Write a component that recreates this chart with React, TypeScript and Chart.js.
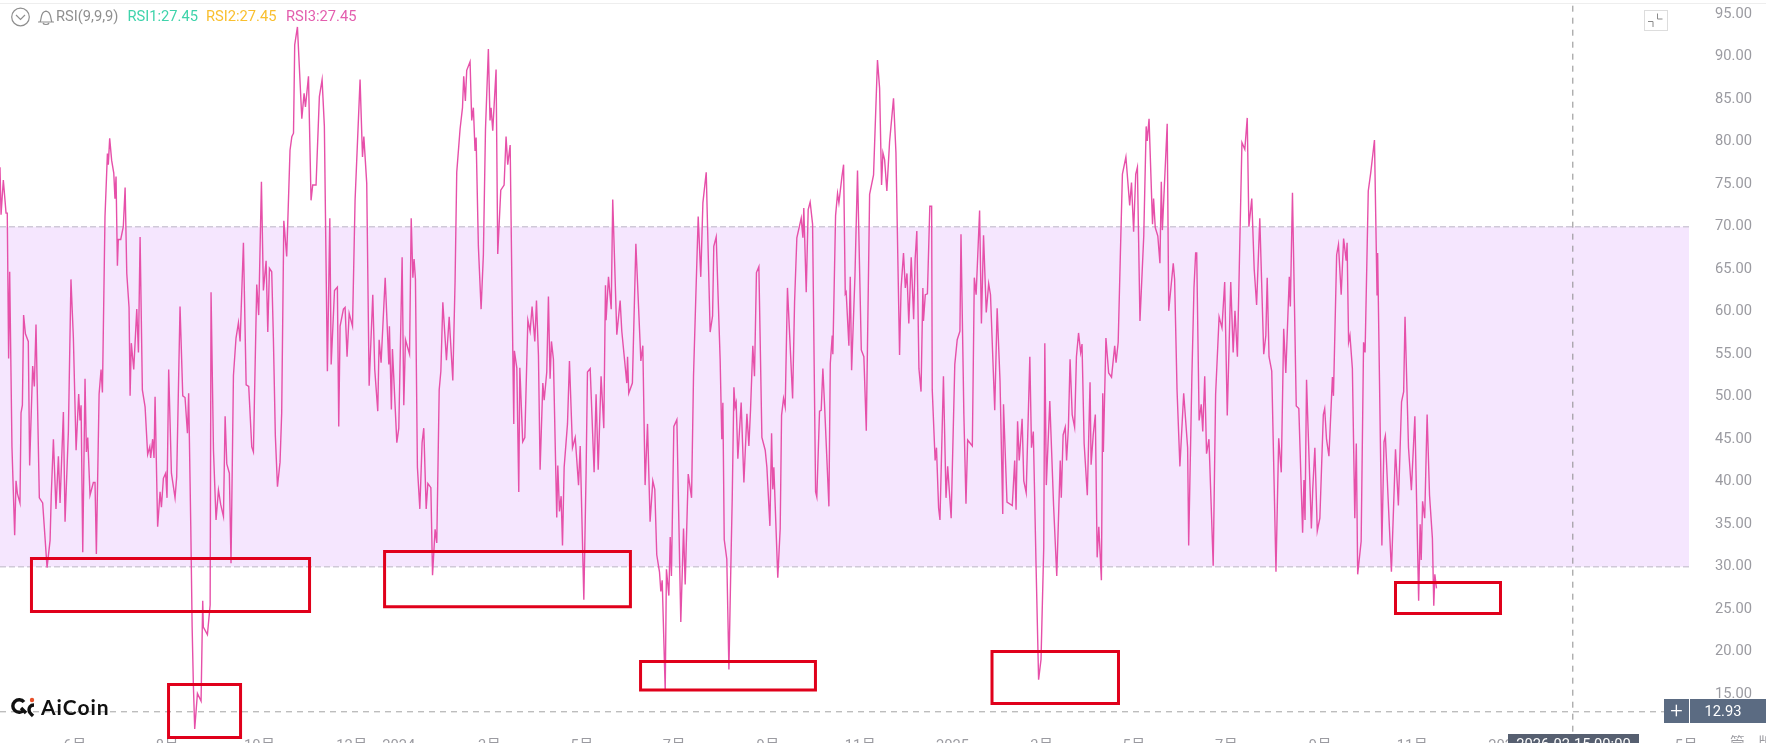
import React, { useEffect, useRef } from "react";
import { Chart, registerables } from "chart.js";

Chart.register(...registerables);

type Pair = [number, number];

// [days from the left edge of the view, RSI value]
const rsiSegmentA: Pair[] = [
  [0,77],[.7,71.4],[2.2,75.5],[4,71.6],[4.8,71.6],[5.7,54.5],[6.4,64.7],[7.9,44.1],[9.7,33.7],[10.6,40.1],[11.5,38.6],[13.2,37.5],[13.9,48.1],[14.8,49],[15.6,59.6],[16.8,57.4],[18.7,56.5],[19.6,41.9],[21.6,53.6],[22.7,51.2],[23.8,58.5],[26,38.1],[28.2,37.5],[31.1,29.9],[33.1,33.1],[33.9,38.5],[35.3,45],[37,36.8],[38.6,43],[39.7,37.5],[41.9,48.2],[43,35.3],[45.2,45.9],[46.9,63.8],[48.5,56.9],[50.3,43.7],[52,50.3],[52.9,47.2],[53.6,49],[54.7,31.7],[56.2,52.1],[57.1,43.5],[58,45.2],[59.5,38.4],[61.7,39.9],[62.8,39.9],[63.7,31.5],[65.5,50.3],[66.8,53.2],[67.7,50.5],[69.4,71.2],[71,78.6],[71.6,77.3],[72.5,80.4],[73.8,77.8],[75.2,76.3],[76,73.3],[76.7,75.9],[77.6,65.4],[78.2,68.5],[79.8,68.5],[81.5,70],[82.7,74.6],[83.8,64.5],[85.3,60.5],[86,50.1],[86.8,56.3],[88.4,53.2],[90.4,60.3],[91.5,55.2],[92.6,68.8],[94.1,50.8],[95.9,48.8],[97.6,43.2],[99,44.1],[99.6,42.8],[100.9,45],[101.8,42.8],[102.5,50],[104.2,34.7],[105.8,38.8],[106.7,37],[108,40.4],[109.5,41],[110.4,38.1],[111.5,53.2],[113.3,41],[115.7,38.1],[116.8,40.6],[119,60.6],[120.8,50.1],[122.3,49.9],[123.9,45.7],[124.7,50.4],[126.1,34.8],[127,22.9],[127.8,16.2],[128.7,10.9],[130.5,15.1],[132.9,14.2],[134,26],[134.4,22.9],[137.1,22],[138.9,25.5],[139.5,62.3],[141.1,43.7],[142.8,35.5],[144.4,39],[145.9,37.3],[147.7,35.9],[148.8,47.7],[149.9,42.1],[151.6,41],[152.7,30.4],[154.3,52.5],[156,56.9],[157.6,58.7],[158.7,56.5],[160.9,68.1],[162.7,51.4],[164.4,51.2],[166.4,44.1],[167.5,43.5],[169.7,63.2],[171,59.6],[172.8,75.3],[174.1,62.5],[175.9,66],[177,57.6],[178.1,65.1],[179.6,64.7],[180.7,56.9],[182,45.4],[183.4,39.4],[185.1,42.3],[186.2,48.1],[187.6,70.7],[189.5,66.5],[191.7,79],[192.9,80.6],[194,81],[194.8,91.4],[196.6,93.5],[199.5,82.7],[201,85.7],[201.9,84.1],[203.9,87.7],[205.6,73.1],[206.7,74.9],[208.9,74.9],[211.1,85.3],[212.9,87.3],[214.4,81.8],[216.4,53],[218,71],[218.9,53.8],[221.1,62.5],[223,62.9],[223.9,46.5],[224.8,58.3],[227,60.3],[228.1,60.5],[229.4,54.7],[230.8,59.8],[233,58.3],[234.7,73.1],[238,87.3],[239.6,78.2],[240.5,80.6],[242.4,75.1],[244,51.3],[246.4,62],[247.7,53.2],[249.7,48.3],[250.6,56.7],[251.9,54],[254.6,64],[257,53.8],[257.4,58.3],[258.7,48.5],[259.4,55.6],[262.3,44.6],[263.6,46.3],[265.8,66.4],[266.9,49],[268,56.7],[270.7,55],[271.8,71],[272.9,64],[273.7,66.2],[274.6,63.8],[275.9,41.7],[277.5,36.8],[279,44.6],[280.1,46.3],[281.7,36.8],[282.8,39.8],[284.8,39.3],[285.9,29],[287.6,34.4],[288.7,32.8],[290.3,50.8],[291.4,53],[292.7,61.1],[295.1,54.3],[296.9,59.4],
];

const rsiSegmentB: Pair[] = [
  [297.5,57.5],[299.3,51.9],[300.8,63.6],[301.9,76.4],[304.1,81.5],[305.7,84],[306.5,87.7],[307.6,84.8],[308.5,88.4],[310.7,89.4],[311.8,82.5],[312.9,84],[314,78.9],[314.7,80.5],[316.2,67.7],[318,60.3],[319.5,66.7],[320.9,81.5],[322.8,90.9],[323.9,82.5],[324.6,84],[325.7,81.3],[327.9,88.5],[329,66.8],[331,74.3],[333.2,74.9],[334.5,80.6],[335.6,77.3],[337.2,79.6],[338.3,64.1],[339.6,46.8],[340,55.4],[341.6,53.4],[342.9,38.8],[343.6,53.4],[345.5,44.7],[346.9,45.2],[348.9,59],[350.4,57.7],[351.7,60.6],[353.5,56.5],[354.6,61.3],[355.9,54.9],[357,41.4],[358.8,51.6],[359.7,49.6],[361.4,52.9],[362.5,61.8],[363.6,52.1],[364.5,56.5],[365.8,54.4],[368,35.8],[368.7,41.9],[369.8,36.5],[370.9,38.3],[371.8,32.5],[372.9,41.7],[375.1,46.8],[376.4,54.2],[378.4,44],[380.2,45.2],[382.4,39.6],[383.5,44.2],[385.9,26.1],[387.4,41.1],[388.3,52.9],[390.1,53.3],[392.7,41.1],[394,50.3],[395.4,41.4],[397.3,52.4],[399.1,46.3],[400.2,63.1],[400.6,59],[402.2,64.1],[404,60.3],[405,73.2],[407.7,57.3],[409.9,61.3],[411,57.7],[414.3,51.6],[414.8,54.7],[415.6,50.4],[418,51.6],[420.3,68],[423.6,54.2],[424.9,56],[426.4,39.6],[428,46.8],[429.7,35.3],[431.5,40.1],[432.8,39.1],[434.1,31.4],[435.9,29.4],[436.8,27.1],[437.7,28.4],[439.7,15.4],[440.5,29.7],[442.1,26.6],[443,33.5],[443.8,28.9],[445.4,46.5],[447.4,47.3],[450,23.5],[451.8,34.5],[452.9,27.9],[454.9,40.9],[457.1,38.1],[458.4,52.4],[459.9,61.6],[461.5,71.2],[463.2,64.1],[464.6,72.8],[466.8,76.4],[469.4,57.6],[471,59.5],[471.8,67.7],[473.4,68.8],[476,54.4],[477.1,45],[477.8,49.3],[478.7,33.2],[480.4,30.9],[481.8,17.9],[482.9,28.4],[484,38.1],[485.1,51.1],[485.9,48.8],[486.6,49.3],[487.7,42.7],[489.9,49.3],[491.7,39.9],[493.7,48],[495,44.2],[496.1,48.5],[497.6,56],[498.7,52.4],[500,64.6],[501.6,65.3],[503.6,45.2],[505.8,43.7],[506.9,41.7],[508.9,34.8],[510,45.7],[510.8,39.1],[511.5,41.7],[514.1,28.7],[515.7,34.5],[516.6,47.8],[517.9,49.8],[519,48.8],[520.5,62.8],[523.9,49.8],[525.2,61.1],[526.7,68.7],[529.6,71],[530.7,68.7],[531.3,72.2],[532.9,62.3],[534.2,72],[535.5,72.9],[537.1,70.3],[539.1,38.8],[539.9,38.2],[541.7,48.3],[542.8,48.4],[543.9,53.3],[545,49.1],[547.9,37.1],[548.8,53.9],[550.1,57.2],[550.5,55],[552.3,71.3],[553.6,73.9],[554.5,72.8],[556.5,75.9],[557.6,77.3],[558.7,62.1],[559.3,62.3],[561.1,56],[562,64.1],[562.9,53.1],[565.1,64.1],[566.8,76.6],[569.3,55.5],[571,54.7],[572.6,46],[574.8,73.8],[577.4,76.1],[580,89.6],[581.4,86.3],[582.7,74.9],[583.6,78.7],[584.7,77.9],[586.2,74.2],[588,80],[590.6,85.1],[592.2,78.7],[594.6,54.9],
];

const rsiSegmentC: Pair[] = [
  [595.6,62.8],[597.2,66.9],[598.4,62.8],[599.5,64.5],[600.7,58.6],[602.3,66.4],[603.9,59.1],[604.9,66.2],[606,69.5],[607.4,53.3],[608.8,50.6],[610,62.8],[610.4,58.9],[611.6,62],[613,62.1],[614.6,72.4],[615.8,72.4],[616.2,50.8],[618.1,42.5],[619,44],[620.4,36.9],[621.3,35.5],[623.6,52.4],[625.3,38.1],[626.4,41.8],[628.7,35.7],[631.1,53.8],[632.7,56.7],[634.5,57.7],[635.2,69.1],[637.1,47.9],[638.5,37.4],[639.6,44.9],[642.7,44.2],[644,64],[645.2,62],[647.5,71.9],[648.7,58.6],[650.1,69],[651.9,59.9],[653.5,63.3],[654.7,62],[657.5,48.4],[659.1,60.4],[661,51.8],[662.8,36.2],[663.3,49.1],[665.6,37.6],[669.1,37.2],[670.7,42.5],[671.6,36.7],[672.6,47.1],[673.7,42.5],[675.6,47.4],[676.7,40.1],[678.3,38.7],[680.7,54.7],[681.8,44],[683,45.9],[684.8,30.3],[686.5,16.7],[688.1,19.1],[689.9,32.3],[690.6,56.3],[691.6,39.6],[693.9,49.5],[696.4,37.2],[698.5,28.9],[700.8,42.5],[701.5,38.1],[702.7,45.5],[704.1,46.4],[705,42.5],[706.2,46.4],[707.3,54.4],[708.7,47.9],[710.3,46.4],[711.5,54.7],[712.9,57.5],[714.3,55.2],[715.2,56.2],[716.6,44.5],[718.7,38.4],[720.5,51.7],[721.2,42],[722.6,45.5],[724,47.9],[725.2,31.1],[726.3,34.7],[728,28.4],[728.9,50.4],[729.3,43.5],[731,56.9],[732.8,52.8],[734.7,52.3],[736.8,56],[737.7,54],[739.1,56.4],[740.5,66.4],[741.9,76.2],[744.2,78.2],[746.7,72.5],[747.9,75.2],[749.3,69.4],[750.7,76.2],[751.8,77],[753.5,58.9],[756,68.9],[757.6,81.8],[758.3,80.1],[759.5,82.7],[761.8,70.3],[762.5,73.3],[763.6,69.9],[765.3,68.9],[766.7,65.7],[767.6,75.3],[768.3,69.6],[771.5,82.1],[772.5,60.1],[775.5,65.7],[776.4,63.8],[778,50.8],[779.9,41.8],[782.4,50.4],[785,44],[785.7,32.5],[787.8,52.3],[789.2,62.8],[790.3,66.9],[791,66.9],[792.6,47.2],[794,49.1],[795,45.9],[796.3,52.4],[797.5,43.3],[799.1,45],[801.9,30.1],[803.5,50.3],[805.8,59.4],[807.7,58.1],[809.5,63.5],[811.2,47.8],[813.5,63.5],[815.1,55.2],[816.3,60.1],[817.9,54.7],[820.9,79.9],[822.8,79.1],[824.4,82.8],[825.5,70],[827.4,73.3],[829,65],[830.6,60.8],[832.7,71],[835.3,55],[836.7,57.2],[837.6,64],[838.8,54.7],[840.6,53],[843.4,29.4],[845.2,45.1],[846.9,41.1],[848.5,58],[849.9,52.8],[852.2,64.1],[852.9,60.6],[854.3,74],[856.8,48.9],[858.5,48.6],[861,34],[861.9,40.2],[862.6,35.5],[863.6,52],[864.5,46.9],[866.8,34.5],[867.7,39.1],[869.1,44],[870.7,34.2],[872.4,35.7],[874.7,47.9],[875.6,48.6],[876.8,45],[878.4,43],[880.7,52.3],[881.4,50.1],[883.5,66.7],[884.7,67.9],[886.5,62],[888.1,68.6],[889.8,66],[890.4,68.1],[891.4,56.4],[892.3,57.2],[893.9,53.3],[895.5,35.7],[896.5,44.5],[897.4,29.1],[899.7,33],[901.3,56.4],[902.3,55.2],[904.4,74.2],[906,76.3],[908.5,80.2],[910.2,62],[910.6,66.9],[913.4,32.5],[914.8,44.7],[915.7,45.4],[917.6,37.7],[919.7,29.4],[922.4,43.8],[924.3,37.2],[926.4,49.4],[927.8,50.6],[928.7,59.4],[931,44],[932.9,39],[935.2,47.7],[937.7,26],[938.7,35],[939.4,30.8],[940.3,37.7],[941.7,35.7],[943.3,47.9],[944.9,38.4],[946.8,33.3],[947.7,25.4],[948.4,29.1],[949.5,27.45],
];

const xTickDays = [49.6,110.6,171.6,232.6,263.6,323.6,384.6,445.6,507.6,568.6,629.6,688.6,749.6,810.6,872.6,933.6,994.6,1053.6,1114.6];
const xTickLabels = ["6月","8月","10月","12月","2024","3月","5月","7月","9月","11月","2025","3月","5月","7月","9月","11月","2026","3月","5月"];
const yTickValues = [95,90,85,80,75,70,65,60,55,50,45,40,35,30,25,20,15];

const overboughtLevel = 70;
const oversoldLevel = 30;
const lastLowValue = 12.93;
const crosshairDay = 1039.6;
const viewDays = 1116.4;
const yTop = 96.67;
const yBottom = 10.2;

// [first day, last day, upper RSI, lower RSI] of the hand-drawn annotation boxes
const annotationBoxes: [number, number, number, number][] = [
  [20.8,204.6,30.96,24.73],
  [111.4,159,16.14,9.9],
  [254.2,416.7,31.78,25.28],
  [423.4,539,18.84,15.49],
  [655.7,739.3,20.02,13.9],
  [922.4,991.8,28.14,24.49],
];

const FONT = 'Roboto, "Noto Sans CJK SC", sans-serif';
const TEXT = "#9b9ba1";

const noPadding = (s: any) => {
  s.paddingTop = 0;
  s.paddingBottom = 0;
  s.paddingLeft = 0;
  s.paddingRight = 0;
};

export default function App() {
  const ref = useRef<HTMLCanvasElement>(null);

  useEffect(() => {
    document.body.style.margin = "0";
    const toXY = (p: Pair) => ({ x: p[0], y: p[1] });
    const hLine = (y: number, to: number) => [{ x: 0, y }, { x: to, y }];
    const rsi = [...rsiSegmentA, ...rsiSegmentB, ...rsiSegmentC].map(toXY);
    const chart = new Chart(ref.current!, {
      type: "line",
      data: {
        datasets: [
          ...annotationBoxes.map(([a, b, hi, lo]) => ({
            data: [{ x: a, y: hi }, { x: b, y: hi }, { x: b, y: lo }, { x: a, y: lo }, { x: a, y: hi }],
            borderColor: "#e0001b",
            borderWidth: 3,
            borderJoinStyle: "miter",
            borderCapStyle: "square",
            pointRadius: 0,
            order: 0,
            clip: false,
          })),
          { data: rsi, borderColor: "#e650a9", borderWidth: 1.4, pointRadius: 0, tension: 0, order: 1 },
          {
            data: [{ x: crosshairDay, y: 96 }, { x: crosshairDay, y: yBottom }],
            borderColor: "#8c8c8c", borderWidth: 1, borderDash: [6, 6], pointRadius: 0, order: 2,
          },
          {
            data: hLine(lastLowValue, 1100),
            borderColor: "#a3a3a3", borderWidth: 1, borderDash: [6, 5], pointRadius: 0, order: 2,
          },
          {
            data: hLine(oversoldLevel, viewDays),
            borderColor: "#d0c9d8", borderWidth: 1.4, borderDash: [6, 3], pointRadius: 0, order: 3,
          },
          {
            data: hLine(overboughtLevel, viewDays),
            borderColor: "#d0c9d8", borderWidth: 1.4, borderDash: [6, 3], pointRadius: 0, order: 3,
            fill: { value: oversoldLevel }, backgroundColor: "#f5e6fe",
          },
        ],
      },
      options: {
        animation: false,
        responsive: false,
        layout: { padding: 0 },
        plugins: { legend: { display: false }, tooltip: { enabled: false } },
        events: [],
        scales: {
          x: {
            type: "linear",
            min: 0,
            max: viewDays,
            grid: { display: false, drawTicks: false },
            border: { display: false },
            afterBuildTicks: (s: any) => { s.ticks = xTickDays.map((value) => ({ value })); },
            afterFit: (s: any) => { s.height = 8; noPadding(s); },
            ticks: {
              autoSkip: false, maxRotation: 0, padding: 3, color: TEXT,
              font: { family: FONT, size: 14.7 },
              callback: (v: any) => xTickLabels[xTickDays.indexOf(v)],
            },
          },
          y: {
            position: "right",
            min: yBottom,
            max: yTop,
            grid: { display: false, drawTicks: false },
            border: { display: false },
            afterBuildTicks: (s: any) => { s.ticks = yTickValues.map((value) => ({ value })); },
            afterFit: (s: any) => { s.width = 77; noPadding(s); },
            ticks: {
              autoSkip: false, padding: 26, color: TEXT,
              font: { family: FONT, size: 14.7 },
              callback: (v: any) => Number(v).toFixed(2),
            },
          },
        },
      } as any,
    } as any);
    return () => chart.destroy();
  }, []);

  const abs = (s: React.CSSProperties): React.CSSProperties => ({ position: "absolute", whiteSpace: "nowrap", ...s });
  const legend = (left: number, color: string, text: string) => (
    <span style={abs({ left, top: 7, color, fontSize: 14.7, lineHeight: "18px" })}>{text}</span>
  );

  return (
    <div style={abs({ left: 0, top: 0, width: 1766, height: 743, overflow: "hidden", background: "#fff", fontFamily: FONT })}>
      <canvas ref={ref} width={1766} height={743} style={{ position: "absolute", left: 0, top: 0, display: "block" }} />
      <div style={abs({ left: 0, top: 3, width: 1766, height: 1, background: "#eeeeee" })} />
      <svg width="60" height="30" style={abs({ left: 8, top: 2 })} fill="none" stroke="#8f8f8f" strokeWidth="1.2">
        <circle cx="12.5" cy="15" r="8.8" />
        <path d="M8 13 L12.5 17.5 L17 13" />
        <path d="M30 20 H46 M32 20 C34 17 32 10 38 9.2 C44 10 42 17 44 20 M35 21 C35.5 23 40.5 23 41 21" />
      </svg>
      <span style={abs({ left: 56, top: 7, color: "#8f8f8f", fontSize: 14.7, lineHeight: "18px" })}>RSI(9,9,9)</span>
      {legend(127.5, "#3fd3ab", "RSI1:27.45")}
      {legend(206, "#f9bf2e", "RSI2:27.45")}
      {legend(286, "#e35eae", "RSI3:27.45")}
      <svg width="24" height="21" style={abs({ left: 1644, top: 10 })} fill="none" stroke="#8a8a8a" strokeWidth="1">
        <rect x=".5" y=".5" width="23" height="20" stroke="#dddddd" />
        <path d="M13.5 3.5 V9 H18.5 M4 11.5 H9 V17" />
      </svg>
      <div style={abs({ left: 9, top: 695, width: 24, height: 24 })}>
        <svg width="26" height="24" fill="none" stroke="#111" strokeWidth="3.4">
          <path d="M15 15 A6.3 6.3 0 1 1 15 7 M12 13 L17 18" />
          <path d="M25 10 C21 10 20 13 20 15 C20 18 22 19 24 21" />
          <circle cx="23" cy="5" r="2.2" fill="#e8502a" stroke="none" />
        </svg>
      </div>
      <span style={abs({ left: 41, top: 693, color: "#111", fontSize: 21, fontWeight: 700, letterSpacing: 1, fontFamily: "Lato, Roboto, sans-serif", lineHeight: "28px" })}>AiCoin</span>
      <div style={abs({ left: 1664, top: 699, width: 25, height: 24, background: "#5b6b82", color: "#fff", fontSize: 22, fontWeight: 300, lineHeight: "24px", textAlign: "center" })}>+</div>
      <div style={abs({ left: 1690, top: 699, width: 76, height: 24, background: "#5b6b82", color: "#fff", fontSize: 14.7, lineHeight: "24px", textAlign: "center", paddingRight: 10, boxSizing: "border-box" })}>12.93</div>
      <div style={abs({ left: 1508, top: 734, width: 131, height: 20, background: "#565f70", color: "#fff", fontSize: 14.7, lineHeight: "14px", textAlign: "center", paddingTop: 3, boxSizing: "border-box" })}>2026-02-15 00:00</div>
      <span style={abs({ left: 1730, top: 735, color: TEXT, fontSize: 14.7, lineHeight: "16px", letterSpacing: 5 })}>管 版</span>
    </div>
  );
}
